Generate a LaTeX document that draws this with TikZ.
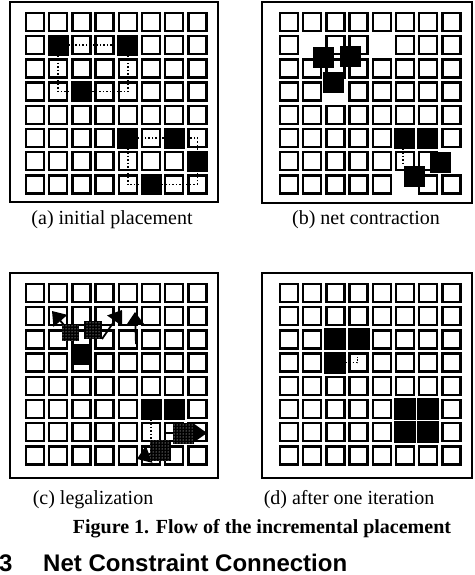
\documentclass[tikz,border=0pt]{standalone}
\usepackage{fontspec}
\setmainfont{Liberation Serif}
\setsansfont{Liberation Sans}
\usetikzlibrary{arrows.meta,patterns}
\tikzset{cell/.style = {shape=rectangle,draw,line width=2.5pt,minimum size=18pt,inner sep=0pt,fill=white}}
\tikzset{block/.style = {shape=rectangle,draw,line width=1pt,minimum size=20pt,inner sep=0pt,fill=black}}
\tikzset{ghost/.style = {block,postaction={pattern=dots,pattern color=white}}}
\tikzset{frame/.style = {draw,line width=2pt}}
\tikzset{net/.style = {dotted,line width=1.5pt}}
\tikzset{move/.style = {line width=1.8pt,-{Triangle[width=18pt,length=13pt]}}}
\tikzset{caption/.style = {font=\fontsize{20}{24}\selectfont,inner sep=0pt,anchor=base}}

\begin{document}
\begin{tikzpicture}[x=1pt,y=-1pt]
\useasboundingbox (0,0) rectangle (474,575);
\fill[white] (0,0) rectangle (474,575);
% (a) initial placement
\draw[frame] (10,2) rectangle (218,202);
\foreach \r in {0,...,7}{\foreach \c in {0,...,7}{
  \node[cell] (a-\r-\c) at ({35+23.2*\c},{22+23.2*\r}) {};}}
\draw[net] (a-1-1.center) rectangle (a-3-4.center);
\draw[net] (a-5-4.center) rectangle (a-7-7.center);
\foreach \r/\c in {1/1,1/4,3/2,5/4,5/6,6/7,7/5}
  \node[block] (a-blk-\r-\c) at (a-\r-\c) {};
% (b) net contraction
\draw[frame] (262,2) rectangle (472,203);
\foreach \r/\cols in {0/{0,1,2,3,4,5,6,7},1/{0,2,3,5,6,7},2/{0,1,2,3,4,5,6,7},3/{0,1,3,4,5,6,7},
  4/{0,1,2,3,4,5,6,7},5/{0,1,2,3,4,5,6,7},6/{0,1,2,3,4,5,6},7/{0,1,2,3,4,6,7}}{
  \foreach \c in \cols{
    \node[cell] (b-\r-\c) at ({289+23.2*\c},{22+23.2*\r}) {};}}
\node[block] (b1) at (323,58) {};
\node[block] (b2) at (350,57) {};
\node[block] (b3) at (333,83) {};
\node[block] (b4) at (404,138) {};
\node[block] (b5) at (427,138) {};
\node[block] (b6) at (440,162) {};
\node[block] (b7) at (414,176) {};
\draw[net] ([xshift=-1pt]b4.south) -- ([xshift=-1pt]b4.south |- b7.north);
% (c) legalization
\draw[frame] (10,273) rectangle (218,478);
\foreach \r in {0,...,7}{\foreach \c in {0,...,7}{
  \node[cell] (c-\r-\c) at ({35+23.2*\c},{293+23.2*\r}) {};}}
\coordinate (c-tip1) at (52,311);
\coordinate (c-tip2) at (122,310);
\coordinate (c-foot3) at (136,344);
\coordinate (c-tip3) at (135,312);
\coordinate (c-tip6) at (207,433);
\coordinate (c-tip7) at (137,459);
\node[block] (c4) at (c-5-5) {};
\node[block] (c5) at (c-5-6) {};
\node[ghost,minimum size=17pt] (c2) at (93,330) {};
\draw[net] (c4.south) -- (c4.south |- 160,440);
\draw[move] (70,332) -- (c-tip1);
\draw[move] (c2.south east) -- (c-tip2);
\draw[move] (c-foot3) -- (c-tip3);
\draw[move] (183,433) ++(-17,0) -- (c-tip6);
\draw[move] (160,450) -- (c-tip7);
\node[ghost,minimum size=16pt] (c1) at (70,332) {};
\node[block] (c3) at (81,354) {};
\node[ghost] (c6) at (183,433) {};
\node[ghost] (c7) at (160,450) {};
% (d) after one iteration
\draw[frame] (262,273) rectangle (472,478);
\foreach \r in {0,...,7}{\foreach \c in {0,...,7}{
  \node[cell] (d-\r-\c) at ({289+23.2*\c},{293+23.2*\r}) {};}}
\draw[net] (d-3-2.east) -- ++(12,0) -- ++(0,-6);
\foreach \r/\c in {2/2,2/3,3/2,5/5,5/6,6/5,6/6}
  \node[block,minimum size=21pt] (d-blk-\r-\c) at (d-\r-\c) {};
% captions
\node[caption] (cap-a) at (112,224) {(a) initial placement};
\node[caption] (cap-b) at (366,224) {(b) net contraction};
\node[caption] (cap-c) at (93,504) {(c) legalization};
\node[caption] (cap-d) at (349,504) {(d) after one iteration};
\node[caption,font=\bfseries\fontsize{20}{24}\selectfont] (cap-fig) at (262,533) {Figure 1. Flow of the incremental placement};
\node[anchor=base west,inner sep=0pt,font=\sffamily\bfseries\fontsize{24}{28}\selectfont] (sec-num) at (-1,571) {3};
\node[anchor=base west,inner sep=0pt,font=\sffamily\bfseries\fontsize{24}{28}\selectfont] (sec-title) at (43,571) {Net Constraint Connection};
\end{tikzpicture}
\end{document}
